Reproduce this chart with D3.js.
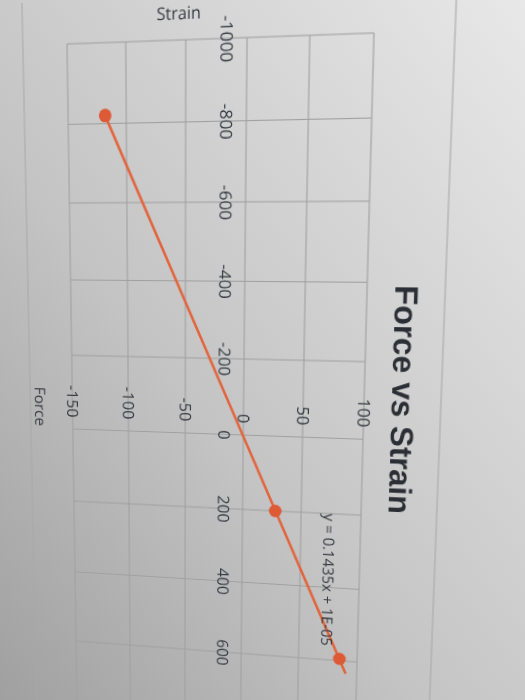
<!DOCTYPE html>
<html>
<head>
<meta charset="utf-8">
<script src="https://cdn.jsdelivr.net/npm/d3@7"></script>
<style>
  html, body { margin: 0; padding: 0; width: 525px; height: 700px; overflow: hidden; }
  body { background: linear-gradient(to bottom left, #e8e8e8 0%, #d6d6d6 30%, #c4c4c4 60%, #a0a0a0 100%); }
  #chart { position: absolute; left: 0; top: 0; transform-origin: 0 0; }
</style>
</head>
<body>
<svg id="chart"></svg>
<script>
const title = 'Force vs Strain';
const xTitle = 'Force';
const yTitle = 'Strain';
const equation = 'y = 0.1435x + 1E-05';

// points (x = Force, y = Strain)
const force = [-820, 200, 595];
const strain = [-118, 28, 85];

const xTicks = [-1000, -800, -600, -400, -200, 0, 200, 400, 600];
const yTicks = [-150, -100, -50, 0, 50, 100];

const W = 525, H = 760;
const svg = d3.select('#chart')
  .attr('width', W)
  .attr('height', H);

// the photo shows the chart turned a quarter clockwise, so draw it
// upright and rotate the whole group
const g = svg.append('g')
  .attr('transform', `translate(${W},0) rotate(90)`);

const x = d3.scaleLinear().domain([-1000, 800]).range([40, 728.5]);
const y = d3.scaleLinear().domain([-150, 100]).range([455, 155]);

const gridColor = '#a0a0a0';
const textColor = '#363940';
const orange = '#e2643c';

// chart area border
g.append('rect')
  .attr('x', -20)
  .attr('y', 81)
  .attr('width', 820)
  .attr('height', 420)
  .attr('fill', 'none')
  .attr('stroke', '#a8a8a8')
  .attr('stroke-width', 1);

const grid = g.append('g').attr('class', 'grid');

grid.selectAll('.vline')
  .data(x.ticks(9))
  .enter().append('line')
  .attr('class', 'vline')
  .attr('x1', d => x(d)).attr('x2', d => x(d))
  .attr('y1', y(-150)).attr('y2', y(100))
  .attr('stroke', gridColor)
  .attr('stroke-width', 1.1);

grid.selectAll('.hline')
  .data(yTicks)
  .enter().append('line')
  .attr('class', 'hline')
  .attr('x1', x(-1000)).attr('x2', x(800))
  .attr('y1', d => y(d)).attr('y2', d => y(d))
  .attr('stroke', gridColor)
  .attr('stroke-width', 1.1);

// tick labels sit on the axes, which cross at the origin
const plain = d => String(d);

const xAxis = g.append('g')
  .attr('transform', `translate(0,${y(0)})`)
  .call(d3.axisBottom(x).tickValues(xTicks).tickFormat(plain).tickSize(0).tickPadding(14));

const yAxis = g.append('g')
  .attr('transform', `translate(${x(0)},0)`)
  .call(d3.axisLeft(y).tickValues(yTicks).tickFormat(plain).tickSize(0).tickPadding(12));

[xAxis, yAxis].forEach(ax => {
  ax.select('.domain').remove();
  ax.selectAll('text')
    .attr('fill', textColor)
    .style('font-family', '"Open Sans", sans-serif')
    .style('font-size', '16.5px');
});

// linear trendline from the points
const mx = d3.mean(force), my = d3.mean(strain);
const slope = d3.sum(force, (f, i) => (f - mx) * (strain[i] - my)) /
  d3.sum(force, f => (f - mx) * (f - mx));
const icpt = my - slope * mx;
const trendX = [d3.min(force), d3.max(force) + 40];

g.append('line')
  .attr('x1', x(trendX[0])).attr('y1', y(slope * trendX[0] + icpt))
  .attr('x2', x(trendX[1])).attr('y2', y(slope * trendX[1] + icpt))
  .attr('stroke', orange)
  .attr('stroke-width', 2.6);

g.selectAll('.dot')
  .data(force)
  .enter().append('circle')
  .attr('class', 'dot')
  .attr('cx', d => x(d))
  .attr('cy', (d, i) => y(strain[i]))
  .attr('r', 6.5)
  .attr('fill', '#dd5a36');

g.append('text')
  .attr('x', 384)
  .attr('y', 128)
  .attr('text-anchor', 'middle')
  .attr('fill', '#2b2e34')
  .style('font-family', '"Liberation Sans", Arial, sans-serif')
  .style('font-weight', 'bold')
  .style('font-size', '31px')
  .text(title);

g.append('text')
  .attr('x', 499)
  .attr('y', 192)
  .attr('fill', textColor)
  .style('font-family', '"Open Sans", sans-serif')
  .style('font-size', '15.5px')
  .text(equation);

g.append('text')
  .attr('transform', 'translate(21,342) rotate(-90)')
  .attr('text-anchor', 'middle')
  .attr('fill', textColor)
  .style('font-family', '"Open Sans", sans-serif')
  .style('font-size', '16px')
  .text(yTitle);

g.append('text')
  .attr('x', 400)
  .attr('y', 496)
  .attr('text-anchor', 'middle')
  .attr('fill', textColor)
  .style('font-family', '"Open Sans", sans-serif')
  .style('font-size', '16px')
  .text(xTitle);

// camera perspective: map the flat plot corners onto the corners in the photo
function homography(src, dst) {
  const A = [], b = [];
  for (let i = 0; i < 4; i++) {
    const [sx, sy] = src[i], [u, v] = dst[i];
    A.push([sx, sy, 1, 0, 0, 0, -u * sx, -u * sy]); b.push(u);
    A.push([0, 0, 0, sx, sy, 1, -v * sx, -v * sy]); b.push(v);
  }
  for (let c = 0; c < 8; c++) {
    let p = c;
    for (let r = c + 1; r < 8; r++) if (Math.abs(A[r][c]) > Math.abs(A[p][c])) p = r;
    [A[c], A[p]] = [A[p], A[c]];
    [b[c], b[p]] = [b[p], b[c]];
    for (let r = 0; r < 8; r++) {
      if (r === c) continue;
      const f = A[r][c] / A[c][c];
      for (let k = c; k < 8; k++) A[r][k] -= f * A[c][k];
      b[r] -= f * b[c];
    }
  }
  return b.map((v, i) => v / A[i][i]);
}

const flat = (fx, fy) => [W - y(fy), x(fx)];
const src = [flat(-1000, -150), flat(-1000, 100), flat(600, -150), flat(600, 100)];
const dst = [[67, 44], [374, 33], [76, 641], [357, 662]];
const [a, b, c, d, e, f, gg, hh] = homography(src, dst);
svg.style('transform', `matrix3d(${a},${d},0,${gg},${b},${e},0,${hh},0,0,1,0,${c},${f},0,1)`);
</script>
</body>
</html>
